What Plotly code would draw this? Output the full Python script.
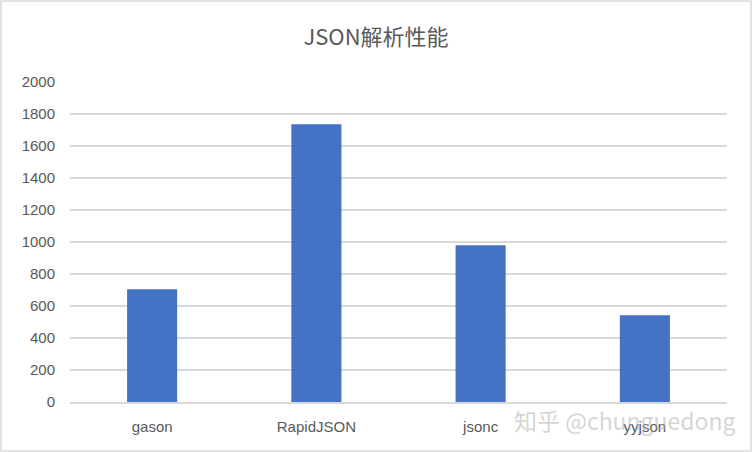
import plotly.graph_objects as go

libs = ['gason', 'RapidJSON', 'jsonc', 'yyjson']
speed = [704, 1736, 979, 542]
yticks = [0, 200, 400, 600, 800, 1000, 1200, 1400, 1600, 1800, 2000]

fig = go.Figure(go.Bar(x=libs, y=speed, marker_color='#4472C4', marker_line_width=0))

fig.update_layout(
    width=752, height=452,
    margin=dict(l=70, r=25, t=82, b=50, autoexpand=False),
    paper_bgcolor='white', plot_bgcolor='white',
    bargap=0.695,
    showlegend=False,
    title=dict(text='JSON解析性能', x=0.5, xanchor='center', y=0.918, yanchor='middle',
               font=dict(family='Noto Sans CJK SC', size=22, color='#595959')),
    font=dict(family='Liberation Sans', size=15, color='#595959'),
)
fig.update_yaxes(range=[0, 2000], tickvals=yticks, showgrid=True, gridcolor='#d9d9d9',
                 gridwidth=1.5, zeroline=False, showline=False, ticks='', ticklabelstandoff=14,
                 automargin=False)
fig.update_xaxes(showline=True, linecolor='#d9d9d9', linewidth=1.5, ticks='',
                 ticklabelstandoff=10, automargin=False)

# outer chart border
fig.add_shape(type='rect', xref='paper', yref='paper',
              x0=-69 / 657, x1=1 + 24 / 657, y0=-49 / 320, y1=1 + 81 / 320,
              line=dict(color='#d9d9d9', width=1.5))
# watermark
fig.add_annotation(text='知乎 @chunguedong', xref='paper', yref='paper', x=1.015, y=-0.055,
                   xanchor='right', yanchor='middle', showarrow=False,
                   font=dict(family='Noto Sans CJK SC', size=23, color='rgba(170,170,170,0.5)'))

fig.write_html("out.html", config={'displayModeBar': False},
               post_script="document.body.style.margin='0';")
